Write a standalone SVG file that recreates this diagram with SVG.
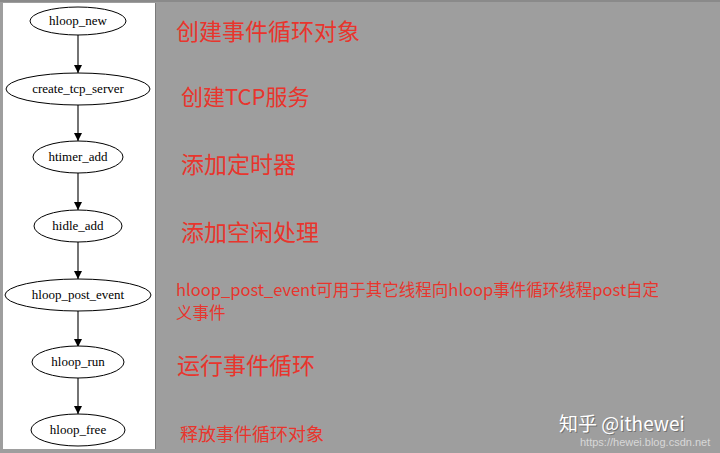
<svg xmlns="http://www.w3.org/2000/svg" width="720" height="453" viewBox="0 0 720 453">
<style>
.node ellipse{fill:#fff;stroke:#000;stroke-width:1}
.node text{font-family:"Liberation Serif","Times New Roman",serif;font-size:13px;fill:#000;text-anchor:middle}
.edge line{stroke:#000;stroke-width:1.1}
.lbl{font-family:"Noto Sans CJK SC","Noto Sans",sans-serif;fill:#e8352d}
</style>
<defs>
<marker id="ah" viewBox="0 0 10 10" refX="10" refY="5" markerWidth="8" markerHeight="8" markerUnits="userSpaceOnUse" orient="auto">
<path d="M0,0 L10,5 L0,10 z" fill="#000"/>
</marker>
</defs>
<rect x="0" y="0" width="720" height="453" fill="#9e9e9e"/>
<rect x="0" y="0" width="720" height="2" fill="#8a8a8a"/>
<rect x="3" y="3" width="152" height="446" fill="#fff"/>
<line x1="155.5" y1="3" x2="155.5" y2="449" stroke="#7a7a7a" stroke-width="1"/>
<g id="connectors" class="edge">
<line x1="78" y1="35" x2="78" y2="73" marker-end="url(#ah)"/>
<line x1="78" y1="105" x2="78" y2="141" marker-end="url(#ah)"/>
<line x1="78" y1="173" x2="78" y2="210" marker-end="url(#ah)"/>
<line x1="78" y1="242" x2="78" y2="279" marker-end="url(#ah)"/>
<line x1="78" y1="311" x2="78" y2="347" marker-end="url(#ah)"/>
<line x1="78" y1="378" x2="78" y2="414" marker-end="url(#ah)"/>
</g>
<g id="hloop_new" class="node"><ellipse cx="78" cy="21" rx="48" ry="14"/><text x="78" y="25">hloop_new</text></g>
<g id="create_tcp_server" class="node"><ellipse cx="78" cy="89" rx="72" ry="16"/><text x="78" y="93">create_tcp_server</text></g>
<g id="htimer_add" class="node"><ellipse cx="78" cy="157" rx="45" ry="16"/><text x="78" y="161">htimer_add</text></g>
<g id="hidle_add" class="node"><ellipse cx="78" cy="226" rx="44" ry="16"/><text x="78" y="230">hidle_add</text></g>
<g id="hloop_post_event" class="node"><ellipse cx="78" cy="295" rx="73" ry="16"/><text x="78" y="299">hloop_post_event</text></g>
<g id="hloop_run" class="node"><ellipse cx="78" cy="362" rx="46" ry="16"/><text x="78" y="366">hloop_run</text></g>
<g id="hloop_free" class="node"><ellipse cx="78" cy="430" rx="47" ry="16"/><text x="78" y="434">hloop_free</text></g>
<text class="lbl" x="176" y="40" font-size="23">创建事件循环对象</text>
<text class="lbl" x="181" y="105" font-size="22">创建TCP服务</text>
<text class="lbl" x="181" y="173" font-size="23">添加定时器</text>
<text class="lbl" x="181" y="241" font-size="23">添加空闲处理</text>
<text class="lbl" x="176" y="296" font-size="16.5">hloop_post_event可用于其它线程向hloop事件循环线程post自定</text>
<text class="lbl" x="176" y="319" font-size="16.5">义事件</text>
<text class="lbl" x="177" y="374" font-size="23">运行事件循环</text>
<text class="lbl" x="180" y="441" font-size="18">释放事件循环对象</text>
<text x="559" y="431" font-family="'Noto Sans CJK SC','Noto Sans',sans-serif" font-size="19" fill="#555" opacity="0.6" transform="translate(1,1)">知乎 @ithewei</text>
<text x="559" y="431" font-family="'Noto Sans CJK SC','Noto Sans',sans-serif" font-size="19" fill="#fff">知乎 @ithewei</text>
<text x="580" y="446" font-family="'Liberation Sans',Arial,sans-serif" font-size="11" fill="#d8d8d8">https://hewei.blog.csdn.net</text>
</svg>
